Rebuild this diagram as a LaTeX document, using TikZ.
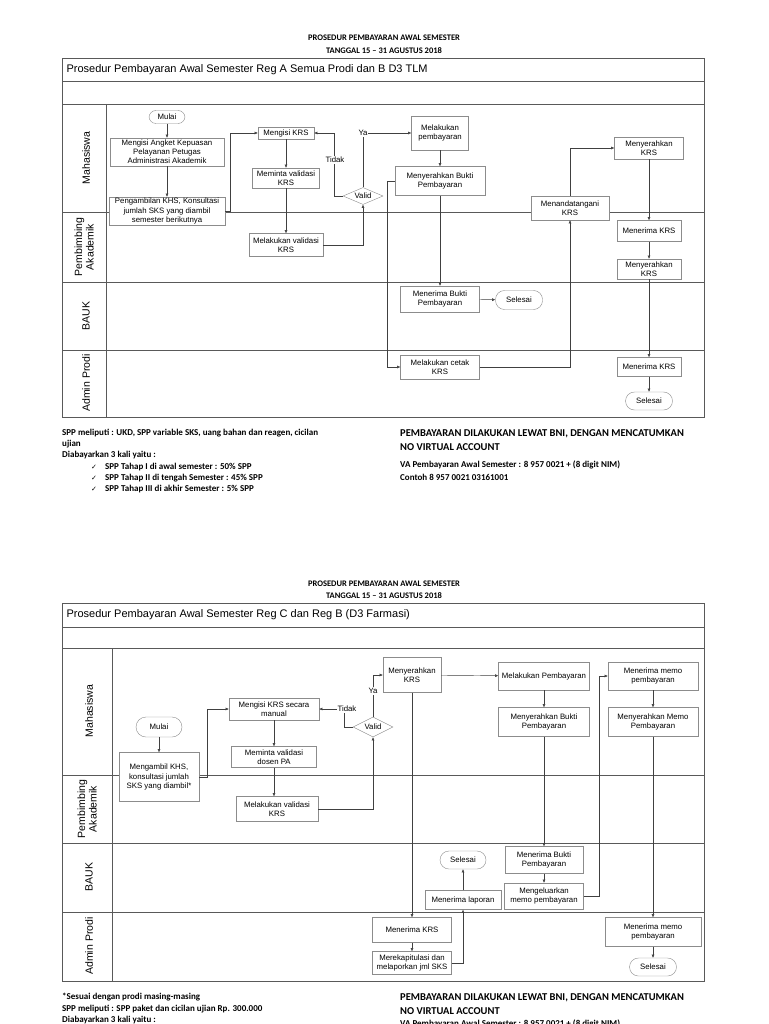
\documentclass[tikz,border=0pt]{standalone}
\usepackage{fontspec}
\setmainfont{Liberation Sans}
\newfontfamily\notefont{Carlito}
\newfontfamily\djv{DejaVu Sans}
\usetikzlibrary{shapes.geometric,arrows.meta}
\begin{document}
\begin{tikzpicture}[x=1pt,y=-1pt,
  box/.style={draw=black!45,fill=white,align=center,font=\fontsize{7.8}{9.2}\selectfont,inner sep=1pt},
  sz/.style 2 args={minimum width=#1,minimum height=#2},
  term/.style={box,rounded corners=7pt},
  dec/.style={draw=black!45,fill=white,diamond,aspect=2.3,inner sep=0pt,font=\fontsize{7.8}{9}\selectfont},
  conn/.style={draw=black!75,line width=0.45pt,-{Latex[length=3.2pt,width=3pt]}},
  lane/.style={draw=black!65,line width=0.6pt},
  lbl/.style={font=\fontsize{7.8}{9}\selectfont,fill=white,inner sep=1pt},
  lanelbl/.style={rotate=90,align=center,font=\fontsize{10.5}{11.5}\selectfont},
  ttl/.style={font=\notefont\bfseries\fontsize{8.5}{10}\selectfont},
  hdr/.style={anchor=west,font=\fontsize{11}{13}\selectfont},
  note/.style={anchor=west,font=\notefont\bfseries\fontsize{9}{11}\selectfont,inner sep=0pt},
  bignote/.style={anchor=west,font=\notefont\bfseries\fontsize{10.5}{12}\selectfont,inner sep=0pt},
  chk/.style={anchor=west,font=\djv\fontsize{7}{8}\selectfont,inner sep=0pt}
]
\fill[white] (0,0) rectangle (768,1024);
\useasboundingbox (0,0) rectangle (768,1024);

% ================= TOP DIAGRAM =================
\node[ttl] (tA1) at (384,38) {PROSEDUR PEMBAYARAN AWAL SEMESTER};
\node[ttl] (tA2) at (384,51) {TANGGAL 15 – 31 AGUSTUS 2018};
\draw[lane] (62,58) rectangle (704,417);
\draw[lane] (62,81) -- (704,81);
\draw[lane] (62,104) -- (704,104);
\draw[lane] (62,212) -- (704,212);
\draw[lane] (62,282) -- (704,282);
\draw[lane] (62,350) -- (704,350);
\draw[lane] (106,104) -- (106,417);
\node[hdr] (hA) at (63,69.5) {Prosedur Pembayaran Awal Semester Reg A Semua Prodi dan B D3 TLM};
\node[lanelbl] (lA1) at (86,158) {Mahasiswa};
\node[lanelbl] (lA2) at (84,247) {Pembimbing\\Akademik};
\node[lanelbl] (lA3) at (86,316) {BAUK};
\node[lanelbl] (lA4) at (86,383) {Admin Prodi};

\node[term,sz={36pt}{13pt}] (mulaiA) at (167,117) {Mulai};
\node[box,sz={114pt}{28pt}] (angket) at (167,152) {Mengisi Angket Kepuasan\\Pelayanan Petugas\\Administrasi Akademik};
\node[box,sz={116pt}{28pt}] (ambil) at (167,211) {Pengambilan KHS, Konsultasi\\jumlah SKS yang diambil\\semester berikutnya};
\node[box,sz={56pt}{12pt}] (mengisi) at (286,133) {Mengisi KRS};
\node[box,sz={67pt}{20pt}] (meminta) at (286,178) {Meminta validasi\\KRS};
\node[box,sz={74pt}{23pt}] (melval) at (286,245) {Melakukan validasi\\KRS};
\node[dec,minimum width=40pt,minimum height=17pt] (valid) at (363,196) {Valid};
\node[box,sz={57pt}{34pt}] (bayar) at (440,133) {Melakukan\\pembayaran};
\node[box,sz={90pt}{29pt}] (bukti) at (440,181) {Menyerahkan Bukti\\Pembayaran};
\node[box,sz={79pt}{26pt}] (terimabukti) at (440,299) {Menerima Bukti\\Pembayaran};
\node[term,sz={47pt}{19pt},rounded corners=9pt] (selesaiA1) at (519,300) {Selesai};
\node[box,sz={79pt}{24pt}] (cetak) at (440,367) {Melakukan cetak\\KRS};
\node[box,sz={78pt}{24pt}] (ttd) at (570,208) {Menandatangani\\KRS};
\node[box,sz={69pt}{22pt}] (serah1) at (649,148) {Menyerahkan\\KRS};
\node[box,sz={64pt}{21pt}] (terimaPA) at (649,231) {Menerima KRS};
\node[box,sz={64pt}{20pt}] (serah2) at (649,269) {Menyerahkan\\KRS};
\node[box,sz={64pt}{19pt}] (terimaAdm) at (649,367) {Menerima KRS};
\node[term,sz={47pt}{18pt},rounded corners=9pt] (selesaiA2) at (649,401) {Selesai};

\draw[conn] (mulaiA) -- (angket);
\draw[conn] (angket) -- (ambil);
\draw[conn] (ambil.east) -- ++(5,0) |- (mengisi.west);
\draw[conn] (mengisi) -- (meminta);
\draw[conn] (meminta) -- (melval);
\draw[conn] (melval.east) -| (valid.south);
\draw[conn] (valid.west) -- ++(-9,0) |- (mengisi.east);
\draw[conn] (valid.north) |- (bayar.west);
\node[lbl] (tidakA) at (335,160) {Tidak};
\node[lbl] (yaA) at (363,133) {Ya};
\draw[conn] (bayar) -- (bukti);
\draw[conn] (bukti) -- (terimabukti);
\draw[conn] (terimabukti) -- (selesaiA1);
\draw[conn] (bukti.west) -- ++(-8,0) |- (cetak.west);
\draw[conn] (cetak.east) -| (ttd.south);
\draw[conn] (ttd.north) |- (serah1.west);
\draw[conn] (serah1) -- (terimaPA);
\draw[conn] (terimaPA) -- (serah2);
\draw[conn] (serah2) -- (terimaAdm);
\draw[conn] (terimaAdm) -- (selesaiA2);

% notes top
\node[note] (nA1) at (62,433) {SPP meliputi : UKD, SPP variable SKS, uang bahan dan reagen, cicilan};
\node[note] (nA2) at (62,444) {ujian};
\node[note] (nA3) at (62,455) {Diabayarkan 3 kali yaitu :};
\node[chk] (cA1) at (91,467) {✓};
\node[note] (nA4) at (105,467) {SPP Tahap I di awal semester : 50\% SPP};
\node[chk] (cA2) at (91,478) {✓};
\node[note] (nA5) at (105,478) {SPP Tahap II di tengah Semester : 45\% SPP};
\node[chk] (cA3) at (91,489) {✓};
\node[note] (nA6) at (105,489) {SPP Tahap III di akhir Semester : 5\% SPP};
\node[bignote] (rA1) at (400,434) {PEMBAYARAN DILAKUKAN LEWAT BNI, DENGAN MENCATUMKAN};
\node[bignote] (rA2) at (400,447) {NO VIRTUAL ACCOUNT};
\node[note] (rA3) at (400,465) {VA Pembayaran Awal Semester : 8 957 0021 + (8 digit NIM)};
\node[note] (rA4) at (400,477) {Contoh 8 957 0021 03161001};

% ================= BOTTOM DIAGRAM =================
\node[ttl] (tB1) at (384,584) {PROSEDUR PEMBAYARAN AWAL SEMESTER};
\node[ttl] (tB2) at (384,596) {TANGGAL 15 – 31 AGUSTUS 2018};
\draw[lane] (62,603) rectangle (704,981);
\draw[lane] (62,627) -- (704,627);
\draw[lane] (62,648) -- (704,648);
\draw[lane] (62,775) -- (704,775);
\draw[lane] (62,843) -- (704,843);
\draw[lane] (62,912) -- (704,912);
\draw[lane] (112,648) -- (112,981);
\node[hdr] (hB) at (63,615) {Prosedur Pembayaran Awal Semester Reg C dan Reg B (D3 Farmasi)};
\node[lanelbl] (lB1) at (89,711) {Mahasiswa};
\node[lanelbl] (lB2) at (87,809) {Pembimbing\\Akademik};
\node[lanelbl] (lB3) at (89,877) {BAUK};
\node[lanelbl] (lB4) at (89,946) {Admin Prodi};

\node[term,sz={46pt}{20pt},rounded corners=10pt] (mulaiB) at (159,727) {Mulai};
\node[box,sz={80pt}{49pt}] (ambilB) at (159,777) {Mengambil KHS,\\konsultasi jumlah\\SKS yang diambil*};
\node[box,sz={90pt}{22pt}] (mengisiB) at (274,709) {Mengisi KRS secara\\manual};
\node[box,sz={85pt}{21pt}] (mintaB) at (274,757) {Meminta validasi\\dosen PA};
\node[box,sz={82pt}{25pt}] (melvalB) at (277,809) {Melakukan validasi\\KRS};
\node[dec,minimum width=40pt,minimum height=20pt] (validB) at (373,727) {Valid};
\node[box,sz={58pt}{35pt}] (serahB) at (412,675) {Menyerahkan\\KRS};
\node[box,sz={91pt}{28pt}] (bayarB) at (544,676) {Melakukan Pembayaran};
\node[box,sz={91pt}{29pt}] (buktiB) at (544,722) {Menyerahkan Bukti\\Pembayaran};
\node[box,sz={90pt}{28pt}] (memoB) at (653,676) {Menerima memo\\pembayaran};
\node[box,sz={90pt}{29pt}] (serahmemo) at (653,722) {Menyerahkan Memo\\Pembayaran};
\node[term,sz={46pt}{18pt},rounded corners=9pt] (selesaiB1) at (463,860) {Selesai};
\node[box,sz={76pt}{19pt}] (laporan) at (463,900) {Menerima laporan};
\node[box,sz={78pt}{27pt}] (terimabuktiB) at (544,860) {Menerima Bukti\\Pembayaran};
\node[box,sz={79pt}{26pt}] (keluarmemo) at (544,896) {Mengeluarkan\\memo pembayaran};
\node[box,sz={79pt}{25pt}] (terimakrsB) at (412,930) {Menerima KRS};
\node[box,sz={79pt}{23pt}] (rekap) at (412,963) {Merekapitulasi dan\\melaporkan jml SKS};
\node[box,sz={96pt}{29pt}] (memoAdm) at (653,932) {Menerima memo\\pembayaran};
\node[term,sz={47pt}{18pt},rounded corners=9pt] (selesaiB2) at (653,967) {Selesai};

\draw[conn] (mulaiB) -- (ambilB);
\draw[conn] (ambilB.east) -- ++(8,0) |- (mengisiB.west);
\draw[conn] (mengisiB) -- (mintaB);
\draw[conn] (mintaB) -- (melvalB.north -| mintaB);
\draw[conn] (melvalB.east) -| (validB.south);
\draw[conn] (validB.west) -- ++(-9,0) |- (mengisiB.east);
\draw[conn] (validB.north) |- (serahB.west);
\node[lbl] (tidakB) at (347,709) {Tidak};
\node[lbl] (yaB) at (373,691) {Ya};
\draw[conn] (serahB) -- (bayarB);
\draw[conn] (bayarB) -- (buktiB);
\draw[conn] (buktiB) -- (terimabuktiB);
\draw[conn] (terimabuktiB) -- (keluarmemo);
\draw[conn] (keluarmemo.east) -- ++(16,0) |- (memoB.west);
\draw[conn] (memoB) -- (serahmemo);
\draw[conn] (serahmemo) -- (memoAdm);
\draw[conn] (memoAdm) -- (selesaiB2);
\draw[conn] (serahB) -- (terimakrsB);
\draw[conn] (terimakrsB) -- (rekap);
\draw[conn] (rekap.east) -| (laporan.south);
\draw[conn] (laporan) -- (selesaiB1);

% notes bottom
\node[note] (nB1) at (62,997) {*Sesuai dengan prodi masing-masing};
\node[note] (nB2) at (62,1009) {SPP meliputi : SPP paket dan cicilan ujian Rp. 300.000};
\node[note] (nB3) at (62,1020) {Diabayarkan 3 kali yaitu :};
\node[bignote] (rB1) at (400,998) {PEMBAYARAN DILAKUKAN LEWAT BNI, DENGAN MENCATUMKAN};
\node[bignote] (rB2) at (400,1011) {NO VIRTUAL ACCOUNT};
\node[note] (rB3) at (400,1024) {VA Pembayaran Awal Semester : 8 957 0021 + (8 digit NIM)};
\end{tikzpicture}
\end{document}
